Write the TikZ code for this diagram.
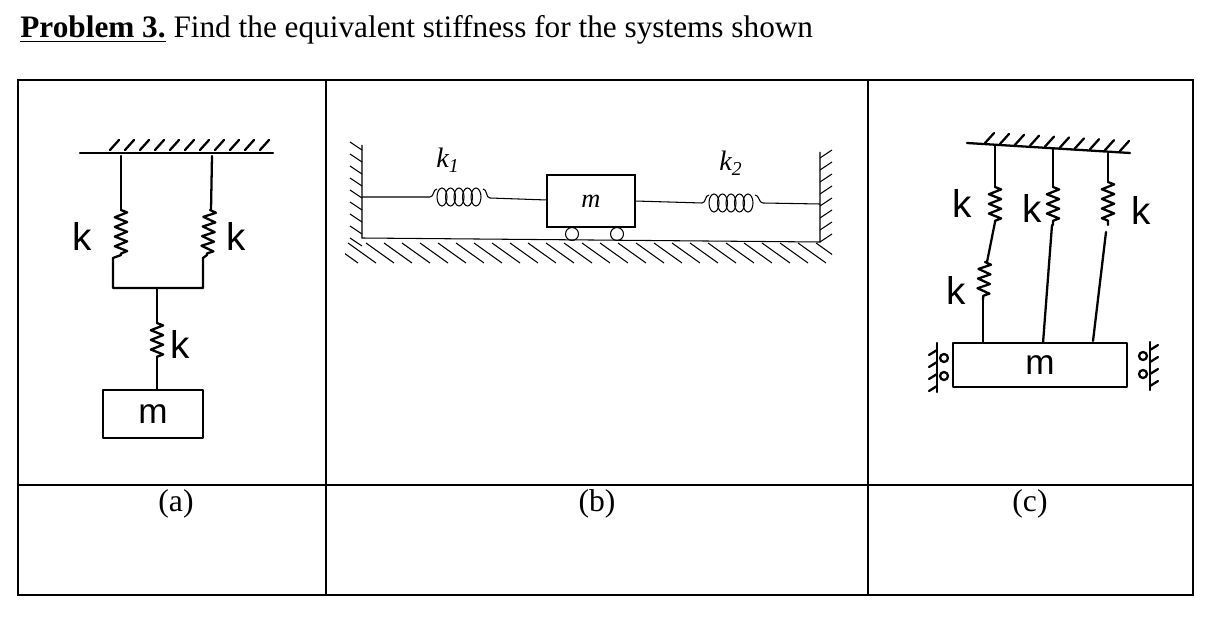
\documentclass[tikz,border=0pt]{standalone}
\usepackage{fontspec}
\setmainfont{Liberation Serif}
\newfontfamily\handfont{Liberation Sans}
\usetikzlibrary{decorations.pathmorphing}
\begin{document}
\begin{tikzpicture}[x=0.02cm,y=-0.02cm,
  tbl/.style={line width=0.9pt},
  hand/.style={line width=1.3pt,line cap=round,line join=round},
  zz/.style={hand,decorate,decoration={zigzag,segment length=5.5pt,amplitude=3.5pt}},
  thin/.style={line width=0.6pt},
  klab/.style={font=\handfont\fontsize{22}{22}\selectfont},
  captxt/.style={font=\fontsize{18}{18}\selectfont}]
\useasboundingbox (0,0) rectangle (1226,618);
% title
\node[anchor=base west,inner sep=0,font=\fontsize{17.8}{18}\selectfont] (title) at (20,38)
  {\textbf{\underline{Problem 3.}} Find the equivalent stiffness for the systems shown};
% table
\draw[tbl] (18,80) rectangle (1193,595);
\draw[tbl] (326,80) -- (326,595) (868,80) -- (868,595) (18,485) -- (1193,485);
\node[captxt] (la) at (176,504) {(a)};
\node[captxt] (lb) at (597,504) {(b)};
\node[captxt] (lc) at (1030,504) {(c)};
% ---------- (a)
\draw[hand] (80,153) -- (273,153);
\foreach \x in {110,125,...,265} \draw[hand] (\x,150) -- (\x+9,140);
\draw[hand] (121,156) -- (121,210);
\draw[zz] (121,210) -- (121,255);
\draw[hand] (121,255) -- (113,258) -- (113,288) -- (203,288) -- (203,258) -- (207,255);
\draw[hand] (212,156) -- (211,210);
\draw[zz] (210,210) -- (207,255);
\draw[hand] (157,288) -- (157,323);
\draw[zz] (157,323) -- (157,357);
\draw[hand] (157,357) -- (157,390);
\node[draw,hand,minimum width=100*0.02cm,minimum height=48*0.02cm,font=\handfont\fontsize{20}{20}\selectfont] (ma) at (153,414) {m};
\node[klab] (ka1) at (82,236) {k};
\node[klab] (ka2) at (236,236) {k};
\node[klab] (ka3) at (180,344) {k};
% ---------- (b)
\draw[thin] (362,145) -- (362,238) -- (820,242) -- (820,152);
\foreach \y in {150,162,...,246} \draw[thin] (362,\y) -- (350,\y-8);
\foreach \y in {158,170,...,246} \draw[thin] (820,\y) -- (832,\y-8);
\begin{scope}
\clip (345,240) rectangle (832,266);
\foreach \x in {330,348,...,830} \draw[thin] (\x,243) -- (\x+28,263);
\end{scope}
\draw[thin] (362,197) -- (430,197) to[out=0,in=180] (437,189);
\foreach \i in {0,...,4} \draw[thin] (442+\i*8.5,197) ellipse (5 and 9);
\draw[thin] (483,189) to[out=0,in=180] (490,198) -- (547,200);
\node[draw,thin,minimum width=88*0.02cm,minimum height=52*0.02cm,font=\itshape\fontsize{15}{15}\selectfont] (mb) at (591,201) {m};
\draw[thin] (572,234) circle (6.5) (617,234) circle (6.5);
\draw[thin] (635,201) -- (702,203) to[out=0,in=180] (709,195);
\foreach \i in {0,...,4} \draw[thin] (714+\i*8.5,203) ellipse (5 and 9);
\draw[thin] (755,195) to[out=0,in=180] (763,203) -- (820,204);
\node[font=\itshape\fontsize{16}{16}\selectfont] (k1) at (448,160) {k\textsubscript{\itshape 1}};
\node[font=\itshape\fontsize{16}{16}\selectfont] (k2) at (731,163) {k\textsubscript{\itshape 2}};
% ---------- (c)
\draw[hand] (967,143) -- (1130,153);
\foreach \x in {985,1000,...,1125} \draw[hand] ({\x},{142+(\x-967)/17}) -- ({\x+9},{132+(\x-967)/17});
\draw[hand] (995,145) -- (995,187);
\draw[zz] (995,187) -- (995,222);
\draw[hand] (995,222) -- (987,262);
\draw[zz] (985,262) -- (983,300);
\draw[hand] (983,300) -- (983,343);
\draw[hand] (1053,149) -- (1053,187);
\draw[zz] (1053,187) -- (1053,225);
\draw[hand] (1052,225) -- (1043,343);
\draw[hand] (1108,153) -- (1108,182);
\draw[zz] (1108,182) -- (1108,225);
\draw[hand] (1106,232) -- (1093,341);
\node[draw,hand,minimum width=174*0.02cm,minimum height=44*0.02cm,font=\handfont\fontsize{20}{20}\selectfont] (mc) at (1040,365) {m};
\node[klab] (kc1) at (962,203) {k};
\node[klab] (kc2) at (1032,208) {k};
\node[klab] (kc3) at (1141,210) {k};
\node[klab] (kc4) at (956,290) {k};
% guides
\draw[hand] (937,343) -- (937,392);
\foreach \y in {350,362,374,386} \draw[hand] (937,\y) -- (929,\y+5);
\draw[hand] (944,358) circle (4) (944,376) circle (4);
\draw[hand] (1150,342) -- (1150,390);
\foreach \y in {350,362,374,386} \draw[hand] (1150,\y) -- (1158,\y-5);
\draw[hand] (1143,356) circle (4) (1143,374) circle (4);
\end{tikzpicture}
\end{document}
